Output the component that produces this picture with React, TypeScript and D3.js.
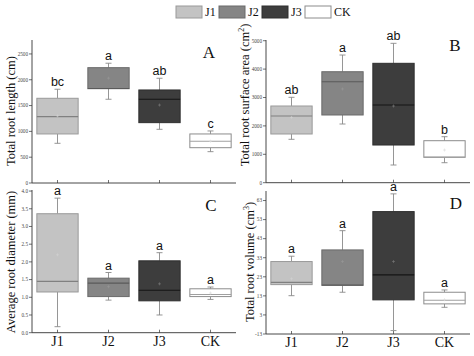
import React from "react";
import * as d3 from "d3";

const categories = ["J1", "J2", "J3", "CK"];
const fills = ["#c3c3c3", "#858585", "#3d3d3d", "#ffffff"];
const strokes = ["#9a9a9a", "#6a6a6a", "#2e2e2e", "#8c8c8c"];
const medianColors = ["#808080", "#5a5a5a", "#151515", "#a0a0a0"];
const meanColors = ["#d2d2d2", "#979797", "#7a7a7a", "#dcdcdc"];

// Panel A: total root length (cm)  [min, q1, median, q3, max]
const lengthStats = [
  [769, 950, 1285, 1641, 1816],
  [1622, 1827, 1830, 2234, 2320],
  [1040, 1169, 1622, 1802, 2029],
  [607, 684, 808, 950, 1008],
];
const lengthMeans = [1300, 2030, 1510, 810];
const lengthLetters = ["bc", "a", "ab", "c"];
const lengthTicks = [0, 500, 1000, 1500, 2000, 2500];

// Panel B: total root surface area (cm2)
const areaStats = [
  [1528, 1715, 2349, 2701, 3007],
  [2067, 2384, 3556, 3908, 4496],
  [623, 1327, 2736, 4204, 4908],
  [704, 894, 900, 1479, 1620],
];
const areaMeans = [2300, 3300, 2700, 1150];
const areaLetters = ["ab", "a", "ab", "b"];
const areaTicks = [0, 1000, 2000, 3000, 4000, 5000];

// Panel C: average root diameter (mm)
const diamStats = [
  [0.17, 1.15, 1.45, 3.36, 3.8],
  [0.92, 1.02, 1.4, 1.54, 1.7],
  [0.5, 0.9, 1.2, 2.03, 2.26],
  [0.94, 1.02, 1.08, 1.24, 1.29],
];
const diamMeans = [2.2, 1.3, 1.38, 1.12];
const diamLetters = ["a", "a", "a", "a"];
const diamTicks = [0, 0.5, 1, 1.5, 2, 2.5, 3, 3.5, 4];

// Panel D: total root volume (cm3)
const volStats = [
  [13.1, 18.9, 20.1, 31.0, 33.8],
  [14.9, 18.5, 18.7, 37.1, 47.2],
  [-5.2, 10.9, 24.0, 57.2, 66.5],
  [7.0, 8.8, 10.7, 14.9, 16.1],
];
const volMeans = [22, 31, 31, 11];
const volLetters = ["a", "a", "a", "a"];
const volTicks = [-7, 3, 13, 23, 33, 43, 53, 63];
const volTickLabels = ["-13", "3", "13", "23", "33", "43", "53", "63"];

type PanelProps = {
  x0: number; x1: number; yBottom: number; yTop: number;
  domain: [number, number];
  stats: number[][]; means: number[]; letters: string[];
  ticks: number[]; tickLabels: string[];
  showX: boolean; letter: string; letterPos: [number, number];
  label: React.ReactNode; labelPos: [number, number];
};

function Panel(p: PanelProps) {
  const x = d3.scaleBand<string>().domain(categories).range([p.x0, p.x1]).paddingInner(0.19).paddingOuter(0.095);
  const y = d3.scaleLinear().domain(p.domain).range([p.yBottom, p.yTop]);
  const bw = x.bandwidth();
  const axisColor = "#333";
  return (
    <g>
      <line x1={p.x0} x2={p.x0} y1={p.yTop} y2={p.yBottom} stroke={axisColor} strokeWidth={0.9} />
      <line x1={p.x0} x2={p.x1} y1={p.yBottom} y2={p.yBottom} stroke={axisColor} strokeWidth={0.9} />
      {p.ticks.map((t, i) => (
        <g key={"yt" + i}>
          <line x1={p.x0 - 3} x2={p.x0} y1={y(t)} y2={y(t)} stroke={axisColor} strokeWidth={0.7} />
          <text x={p.x0 - 4} y={y(t)} dy="0.35em" textAnchor="end" fontSize={5.2} fontFamily="Liberation Serif" fill="#444">
            {p.tickLabels[i]}
          </text>
        </g>
      ))}
      {categories.map((c) => {
        const cx = (x(c) as number) + bw / 2;
        return (
          <g key={"xt" + c}>
            <line x1={cx} x2={cx} y1={p.yBottom} y2={p.yBottom - 3} stroke={axisColor} strokeWidth={0.7} />
            {p.showX && (
              <text x={cx} y={p.yBottom + 13} textAnchor="middle" fontSize={14} fontFamily="Liberation Serif" fill="#111">
                {c}
              </text>
            )}
          </g>
        );
      })}
      {categories.map((c, i) => {
        const [mn, q1, md, q3, mx] = p.stats[i];
        const bx = x(c) as number;
        const cx = bx + bw / 2;
        const capW = 3;
        return (
          <g key={"b" + c}>
            <line x1={cx} x2={cx} y1={y(mx)} y2={y(q3)} stroke="#8a8a8a" strokeWidth={0.9} />
            <line x1={cx} x2={cx} y1={y(q1)} y2={y(mn)} stroke="#8a8a8a" strokeWidth={0.9} />
            <line x1={cx - capW} x2={cx + capW} y1={y(mx)} y2={y(mx)} stroke="#8a8a8a" strokeWidth={0.9} />
            <line x1={cx - capW} x2={cx + capW} y1={y(mn)} y2={y(mn)} stroke="#8a8a8a" strokeWidth={0.9} />
            <rect x={bx} y={y(q3)} width={bw} height={y(q1) - y(q3)} fill={fills[i]} stroke={strokes[i]} strokeWidth={1} />
            <line x1={bx} x2={bx + bw} y1={y(md)} y2={y(md)} stroke={medianColors[i]} strokeWidth={1.1} />
            <g stroke={meanColors[i]} strokeWidth={0.6}>
              <line x1={cx - 1.5} x2={cx + 1.5} y1={y(p.means[i])} y2={y(p.means[i])} />
              <line x1={cx} x2={cx} y1={y(p.means[i]) - 1.5} y2={y(p.means[i]) + 1.5} />
            </g>
            <text x={cx} y={y(mx) - 3} textAnchor="middle" fontSize={12.5} fontFamily="Liberation Sans" fill="#111">
              {p.letters[i]}
            </text>
          </g>
        );
      })}
      <text x={p.letterPos[0]} y={p.letterPos[1]} textAnchor="middle" fontSize={17} fontFamily="Liberation Serif" fill="#111">
        {p.letter}
      </text>
      <text
        transform={`translate(${p.labelPos[0]},${p.labelPos[1]}) rotate(-90)`}
        textAnchor="middle"
        dominantBaseline="central"
        fontSize={12.5}
        fontFamily="Liberation Serif"
        fill="#111"
      >
        {p.label}
      </text>
    </g>
  );
}

export default function App() {
  const legendX = [176, 219, 262, 305];
  return (
    <svg width={474} height={356} style={{ position: "absolute", left: 0, top: 0, background: "#fff" }}>
      <rect width={474} height={356} fill="#fff" />
      {categories.map((c, i) => (
        <g key={"lg" + c}>
          <rect x={legendX[i]} y={6} width={26} height={12} fill={fills[i]} stroke={strokes[i]} strokeWidth={1} />
          <text x={legendX[i] + 29} y={16} fontSize={12} fontFamily="Liberation Serif" fill="#111">{c}</text>
        </g>
      ))}
      <Panel
        x0={32} x1={236} yBottom={183} yTop={40} domain={[0, 2770]}
        stats={lengthStats} means={lengthMeans} letters={lengthLetters}
        ticks={lengthTicks} tickLabels={lengthTicks.map(String)}
        showX={false} letter="A" letterPos={[209, 58]}
        label={"Total root length (cm)"} labelPos={[11, 111]}
      />
      <Panel
        x0={266} x1={470} yBottom={182.7} yTop={40} domain={[0, 5025]}
        stats={areaStats} means={areaMeans} letters={areaLetters}
        ticks={areaTicks} tickLabels={areaTicks.map(String)}
        showX={false} letter="B" letterPos={[455, 51]}
        label={<>Total root surface area (cm<tspan dy={-4} fontSize={8}>2</tspan><tspan dy={4}>)</tspan></>}
        labelPos={[244.5, 95]}
      />
      <Panel
        x0={32} x1={236} yBottom={332.7} yTop={190} domain={[0, 4.03]}
        stats={diamStats} means={diamMeans} letters={diamLetters}
        ticks={diamTicks} tickLabels={diamTicks.map((t) => t.toFixed(1))}
        showX={true} letter="C" letterPos={[211, 211]}
        label={"Average root diameter (mm)"} labelPos={[11, 262]}
      />
      <Panel
        x0={266} x1={470} yBottom={334} yTop={191} domain={[-7, 68]}
        stats={volStats} means={volMeans} letters={volLetters}
        ticks={volTicks} tickLabels={volTickLabels}
        showX={true} letter="D" letterPos={[456, 209]}
        label={<>Total root volume (cm<tspan dy={-4} fontSize={8}>3</tspan><tspan dy={4}>)</tspan></>}
        labelPos={[249.5, 262]}
      />
    </svg>
  );
}
